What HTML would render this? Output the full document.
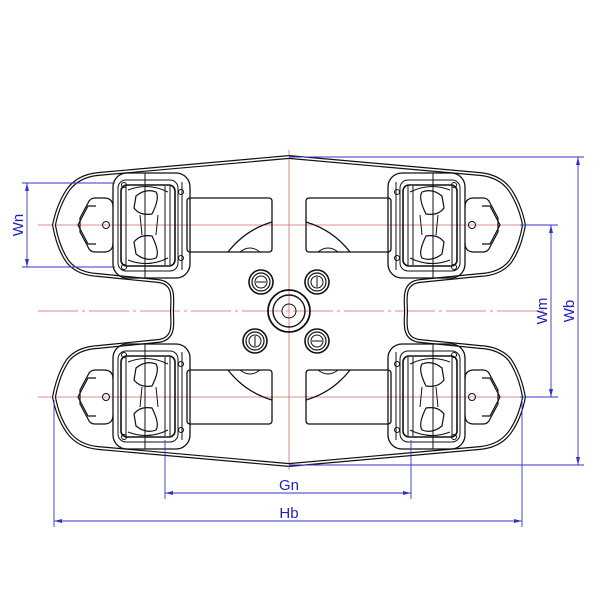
<!DOCTYPE html>
<html><head><style>html,body{margin:0;padding:0;background:#fff}svg{display:block}</style></head>
<body>
<svg width="600" height="600" viewBox="0 0 600 600" xmlns="http://www.w3.org/2000/svg">
<defs>
<g id="half">
  <path id="ol" d="M289,157 L98,174 Q78,176 68,190 Q58,205 54,225 Q58,248 68,262 Q78,274 98,275 L158,281 C176,283 172,300 172,311 C172,322 176,339 158,341 L98,347 Q78,348 68,360 Q58,375 54,397 Q58,418 68,432 Q78,446 98,448 L289,465" fill="none" stroke="#111" stroke-width="4"/>
  <path d="M289,157 L98,174 Q78,176 68,190 Q58,205 54,225 Q58,248 68,262 Q78,274 98,275 L158,281 C176,283 172,300 172,311 C172,322 176,339 158,341 L98,347 Q78,348 68,360 Q58,375 54,397 Q58,418 68,432 Q78,446 98,448 L289,465" fill="none" stroke="#fff" stroke-width="1.6"/>
</g>
<g id="pod" fill="none" stroke="#111" stroke-width="1">
  <path d="M113,207 Q113,198 104,198 L95,198 Q90,198 88,203 L80,218 L80,232 L88,247 Q90,252 95,252 L104,252 Q113,252 113,243" stroke-width="1.2"/>
  <path d="M96,206 L88,206 L78,225 L88,244 L96,244" stroke-width="1.2"/>
  <circle cx="106" cy="225" r="3.5"/>
  <rect x="113" y="173" width="77" height="105" rx="14" stroke-width="1.3"/>
  <rect x="118" y="180" width="60" height="91" rx="8"/>
  <rect x="121" y="185" width="54" height="81" rx="6" stroke-width="1.6"/>
  <line x1="126" y1="186" x2="126" y2="265"/>
  <line x1="165" y1="186" x2="165" y2="265"/>
  <line x1="170" y1="186" x2="170" y2="265"/>
  <line x1="182" y1="182" x2="182" y2="270"/>
  <line x1="145" y1="173" x2="145" y2="278"/>
  <circle cx="124" cy="185" r="2.5"/><circle cx="181" cy="192" r="2.5"/>
  <circle cx="124" cy="267" r="2.5"/><circle cx="181" cy="258" r="2.5"/>
  <path d="M136,196 Q146,188 156,192 Q160,198 152,214 Q140,216 134,208 Z" stroke-width="1.2"/>
  <path d="M136,254 Q146,262 156,258 Q160,252 152,236 Q140,234 134,242 Z" stroke-width="1.2"/>
  <path d="M128,190 Q148,182 168,192 M128,260 Q148,268 168,258 M140,215 L142,235 M158,215 L156,235"/>
  <rect x="187" y="198" width="85" height="54" rx="3" stroke-width="1.3"/>
  <path d="M228,252 Q245,230 272,222" stroke-width="1.3"/>
  <path d="M240,252 Q250,244 260,252"/>
</g>
<g id="screw" fill="none" stroke="#111">
  <circle r="12" stroke-width="1.6"/><circle r="9" stroke-width="1.2"/><circle r="6"/>
</g>
</defs>

<g stroke="#d66" stroke-width="0.8" fill="none">
  <line x1="289" y1="150" x2="289" y2="470"/>
  <line x1="38" y1="225" x2="545" y2="225"/>
  <line x1="38" y1="397" x2="545" y2="397"/>
  <line x1="38" y1="311" x2="545" y2="311" stroke-dasharray="40,4,3,4"/>
</g>

<use href="#half"/>
<use href="#half" transform="translate(578,0) scale(-1,1)"/>
<use href="#pod"/>
<use href="#pod" transform="translate(578,0) scale(-1,1)"/>
<use href="#pod" transform="translate(0,622) scale(1,-1)"/>
<use href="#pod" transform="translate(578,622) scale(-1,-1)"/>

<use href="#screw" x="261" y="282"/>
<use href="#screw" x="317" y="282"/>
<use href="#screw" x="255" y="341"/>
<use href="#screw" x="317" y="341"/>
<g stroke="#111" stroke-width="1" fill="none">
  <line x1="256" y1="282" x2="266" y2="282"/><line x1="317" y1="277" x2="317" y2="287"/>
  <line x1="255" y1="336" x2="255" y2="346"/><line x1="312" y1="341" x2="322" y2="341"/>
  <circle cx="289" cy="311" r="21" stroke-width="1.8"/>
  <circle cx="289" cy="311" r="16" stroke-width="1.4"/>
  <circle cx="289" cy="311" r="7"/>
</g>

<g stroke="#33c" stroke-width="0.9" fill="none">
  <line x1="22" y1="183" x2="115" y2="183"/>
  <line x1="22" y1="267" x2="115" y2="267"/>
  <line x1="27" y1="183" x2="27" y2="267"/>
  <line x1="289" y1="157" x2="584" y2="157"/>
  <line x1="289" y1="465" x2="584" y2="465"/>
  <line x1="578" y1="157" x2="578" y2="465"/>
  <line x1="520" y1="225" x2="558" y2="225"/>
  <line x1="520" y1="397" x2="558" y2="397"/>
  <line x1="551" y1="225" x2="551" y2="397"/>
  <line x1="54" y1="400" x2="54" y2="527"/>
  <line x1="522" y1="400" x2="522" y2="527"/>
  <line x1="165" y1="440" x2="165" y2="499"/>
  <line x1="411" y1="440" x2="411" y2="499"/>
  <line x1="165" y1="493" x2="411" y2="493"/>
  <line x1="54" y1="521" x2="522" y2="521"/>
</g>
<g fill="#33c">
  <path d="M27,183 l-2,8 h4z M27,267 l-2,-8 h4z"/>
  <path d="M578,157 l-2,8 h4z M578,465 l-2,-8 h4z"/>
  <path d="M551,225 l-2,8 h4z M551,397 l-2,-8 h4z"/>
  <path d="M165,493 l8,-2 v4z M411,493 l-8,-2 v4z"/>
  <path d="M54,521 l8,-2 v4z M522,521 l-8,-2 v4z"/>
</g>
<g fill="#22b" font-family="Liberation Sans, sans-serif" font-size="15">
  <text x="289" y="490" text-anchor="middle">Gn</text>
  <text x="289" y="518" text-anchor="middle">Hb</text>
  <text transform="translate(23,225) rotate(-90)" text-anchor="middle">Wn</text>
  <text transform="translate(547,311) rotate(-90)" text-anchor="middle">Wm</text>
  <text transform="translate(574,311) rotate(-90)" text-anchor="middle">Wb</text>
</g>
</svg>
</body></html>
